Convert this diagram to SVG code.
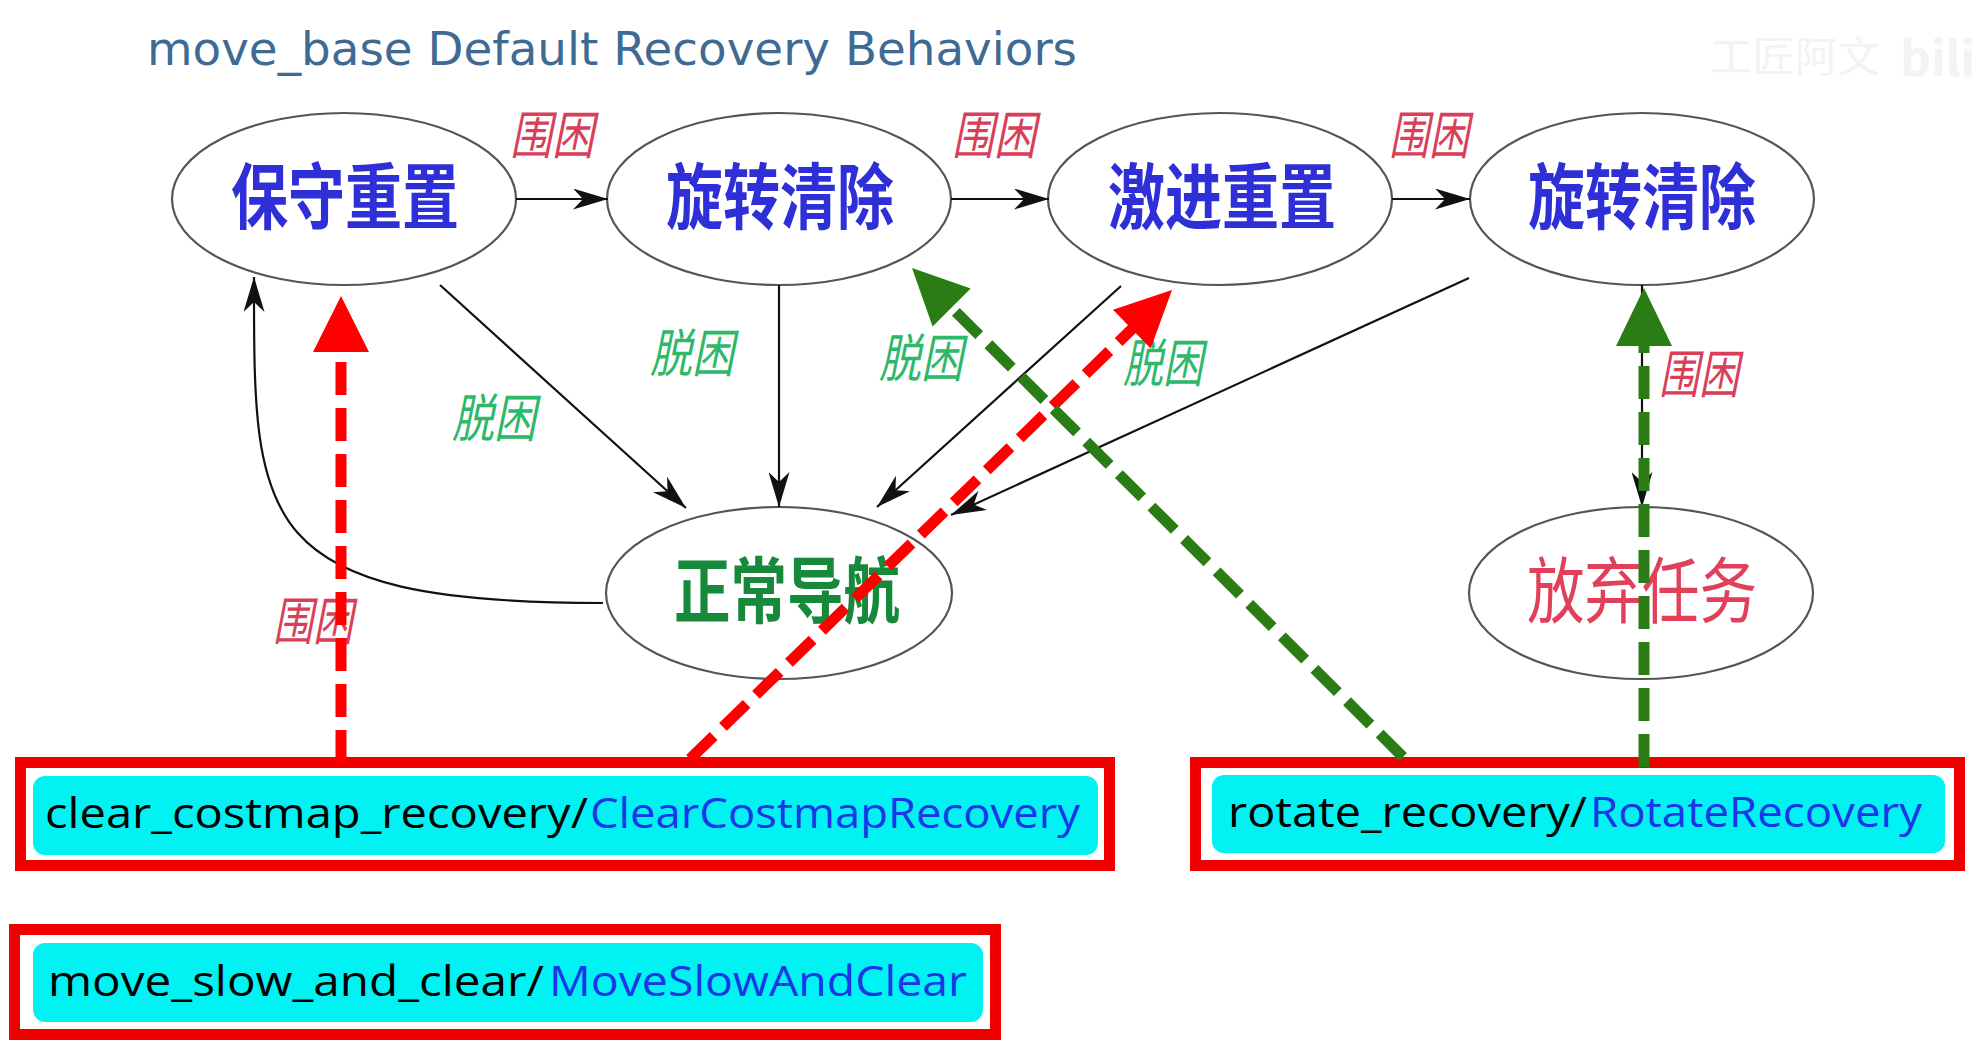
<svg xmlns="http://www.w3.org/2000/svg" width="1976" height="1059" viewBox="0 0 1976 1059">
<style>
.bg{fill:#ffffff}
.title{font-family:"DejaVu Sans","Liberation Sans",sans-serif;font-size:46px;fill:#3f6a94}
.node ellipse{fill:#ffffff;stroke:#555555;stroke-width:2.2}
.nt{font-family:"Noto Sans CJK SC",sans-serif;font-size:72px;text-anchor:middle}
.blue{fill:#2f2fd8;font-weight:700}
.green{fill:#168a3a;font-weight:700}
.pink{fill:#e0405a;font-weight:400}
.lbl{font-family:"Noto Sans CJK SC",sans-serif;font-size:52px;font-style:italic;text-anchor:middle}
.trap{fill:#d8405a}
.free{fill:#2db86a}
.edge{fill:none;stroke:#111111;stroke-width:2.2}
.dr{fill:none;stroke:#ff0000;stroke-width:11;stroke-dasharray:33 13}
.dg{fill:none;stroke:#2a7d14;stroke-width:11;stroke-dasharray:33 13}
.hr{fill:#ff0000}
.hg{fill:#2a7d14}
.frame{fill:#ffffff;stroke:#ee0000;stroke-width:11}
.pill{fill:#00f2f2}
.bt{font-family:"Open Sans","Liberation Sans",sans-serif;font-size:42px}
.k{fill:#000000}
.b{fill:#1a36e8}
.wm{font-family:"Noto Sans CJK SC",sans-serif;fill:#f3f3f3}
</style>
<defs>
<marker id="ah" viewBox="0 0 35 21" refX="35" refY="10.5" markerWidth="35" markerHeight="21" markerUnits="userSpaceOnUse" orient="auto">
<path d="M0,0 L35,10.5 L0,21 L10,10.5 Z" fill="#111111"/>
</marker>
</defs>
<rect class="bg" x="0" y="0" width="1976" height="1059"/>

<text class="title" x="147" y="65" textLength="930" lengthAdjust="spacingAndGlyphs">move_base Default Recovery Behaviors</text>
<g id="watermark">
<text class="wm" x="1710" y="72" font-size="42" textLength="170" lengthAdjust="spacingAndGlyphs">工匠阿文</text>
<text class="wm" x="1900" y="76" font-size="48" font-weight="700" font-family="Liberation Sans, sans-serif">bili</text>
</g>

<g id="nodes">
<g id="n_conservative" class="node">
<ellipse cx="344" cy="199" rx="172" ry="86"/>
<text class="nt blue" x="345" y="223" textLength="228" lengthAdjust="spacingAndGlyphs">保守重置</text>
</g>
<g id="n_rotate1" class="node">
<ellipse cx="779" cy="199" rx="172" ry="86"/>
<text class="nt blue" x="780" y="223" textLength="228" lengthAdjust="spacingAndGlyphs">旋转清除</text>
</g>
<g id="n_aggressive" class="node">
<ellipse cx="1220" cy="199" rx="172" ry="86"/>
<text class="nt blue" x="1222" y="223" textLength="228" lengthAdjust="spacingAndGlyphs">激进重置</text>
</g>
<g id="n_rotate2" class="node">
<ellipse cx="1642" cy="199" rx="172" ry="86"/>
<text class="nt blue" x="1642" y="223" textLength="228" lengthAdjust="spacingAndGlyphs">旋转清除</text>
</g>
<g id="n_normal" class="node">
<ellipse cx="779" cy="593" rx="173" ry="86"/>
<text class="nt green" x="787" y="617" textLength="226" lengthAdjust="spacingAndGlyphs">正常导航</text>
</g>
<g id="n_abort" class="node">
<ellipse cx="1641" cy="593" rx="172" ry="86"/>
<text class="nt pink" x="1642" y="617" textLength="230" lengthAdjust="spacingAndGlyphs">放弃任务</text>
</g>
</g>

<g id="edge_labels">
<text class="lbl trap" x="552" y="154" textLength="84" lengthAdjust="spacingAndGlyphs">围困</text>
<text class="lbl trap" x="994" y="154" textLength="84" lengthAdjust="spacingAndGlyphs">围困</text>
<text class="lbl trap" x="1429" y="154" textLength="80" lengthAdjust="spacingAndGlyphs">围困</text>
<text class="lbl trap" x="1699" y="393" textLength="80" lengthAdjust="spacingAndGlyphs">围困</text>
<text class="lbl trap" x="313" y="640" textLength="80" lengthAdjust="spacingAndGlyphs">围困</text>
<text class="lbl free" x="494" y="437" textLength="84" lengthAdjust="spacingAndGlyphs">脱困</text>
<text class="lbl free" x="692" y="372" textLength="84" lengthAdjust="spacingAndGlyphs">脱困</text>
<text class="lbl free" x="921" y="377" textLength="84" lengthAdjust="spacingAndGlyphs">脱困</text>
<text class="lbl free" x="1163" y="382" textLength="80" lengthAdjust="spacingAndGlyphs">脱困</text>
</g>

<g id="connectors">
<path class="edge" d="M516,199 L608,199" marker-end="url(#ah)"/>
<path class="edge" d="M951,199 L1049,199" marker-end="url(#ah)"/>
<path class="edge" d="M1392,199 L1470,199" marker-end="url(#ah)"/>
<path class="edge" d="M440,285 L686,508" marker-end="url(#ah)"/>
<path class="edge" d="M779,285 L779,507" marker-end="url(#ah)"/>
<path class="edge" d="M1121,286 L877,507" marker-end="url(#ah)"/>
<path class="edge" d="M1469,278 L951,515" marker-end="url(#ah)"/>
<path class="edge" d="M603,603 C250,603 254,520 254,277" marker-end="url(#ah)"/>
<path class="edge" d="M1642,285 L1642,507" marker-end="url(#ah)"/>
</g>

<g id="box_clear_costmap">
<rect class="frame" x="20.5" y="762.5" width="1089" height="103"/>
<rect class="pill" x="33" y="776" width="1065" height="79" rx="12"/>
<text class="bt" y="828"><tspan class="k" x="45" textLength="543" lengthAdjust="spacingAndGlyphs">clear_costmap_recovery/</tspan><tspan class="b" x="590" textLength="490" lengthAdjust="spacingAndGlyphs">ClearCostmapRecovery</tspan></text>
</g>
<g id="box_rotate">
<rect class="frame" x="1195.5" y="762.5" width="764" height="103"/>
<rect class="pill" x="1212" y="775" width="733" height="78" rx="12"/>
<text class="bt" y="827"><tspan class="k" x="1228" textLength="359" lengthAdjust="spacingAndGlyphs">rotate_recovery/</tspan><tspan class="b" x="1590" textLength="332" lengthAdjust="spacingAndGlyphs">RotateRecovery</tspan></text>
</g>
<g id="box_move_slow">
<rect class="frame" x="14.5" y="929.5" width="981" height="105"/>
<rect class="pill" x="33" y="943" width="950" height="79" rx="12"/>
<text class="bt" y="996"><tspan class="k" x="48" textLength="496" lengthAdjust="spacingAndGlyphs">move_slow_and_clear/</tspan><tspan class="b" x="549" textLength="418" lengthAdjust="spacingAndGlyphs">MoveSlowAndClear</tspan></text>
</g>

<g id="dashed_connectors">
<path class="dr" d="M341,763 L341,351"/>
<polygon class="hr" points="341,296 313,352 369,352"/>
<path class="dr" d="M690,759 L1133,328"/>
<polygon class="hr" points="1172,290 1113,309.7 1150.7,348.5"/>
<path class="dg" d="M1403,757 L951,307"/>
<polygon class="hg" points="912,268 970.7,288.4 932.6,326.6"/>
<path class="dg" d="M1644,767 L1644,345"/>
<polygon class="hg" points="1644,288 1616,346 1672,346"/>
</g>
</svg>
